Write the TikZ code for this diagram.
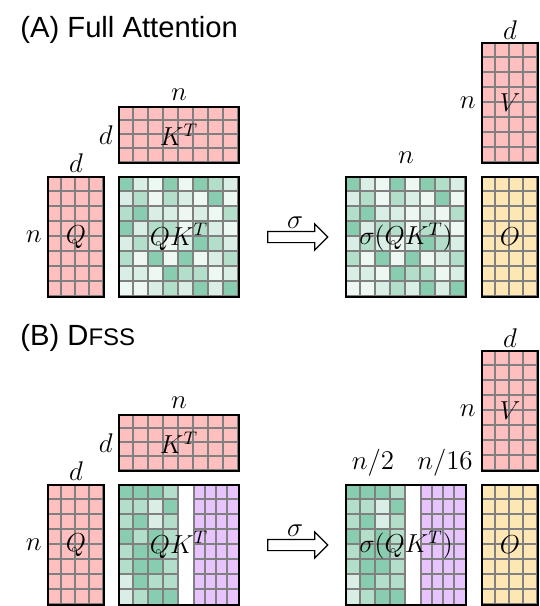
\documentclass[tikz,border=0pt]{standalone}
\usepackage{fix-cm}
\usepackage{fontspec}
\newfontfamily\titlefont{Liberation Sans}
\usetikzlibrary{positioning, shapes.arrows, calc}

\definecolor{kpink}{RGB}{255,191,191}
\definecolor{oyellow}{RGB}{255,230,181}
\definecolor{keptpurple}{RGB}{232,196,255}
\definecolor{gridgray}{RGB}{128,128,128}
\definecolor{g0}{RGB}{238,248,243}
\definecolor{g1}{RGB}{217,239,229}
\definecolor{g2}{RGB}{179,223,202}
\definecolor{g3}{RGB}{136,205,176}

% score levels (0 = weak ... 3 = strong), one list per row
\def\fullscores{{3,1,0,3,0,3,2,1},{1,2,0,2,1,0,3,0},{2,3,1,1,0,1,0,2},{3,1,2,2,0,2,1,0},{1,2,1,0,1,3,2,1},{2,0,3,0,3,0,1,2},{1,1,0,3,2,2,0,1},{0,0,1,2,1,3,1,3}}
\def\keptscores{{3,3,3,2},{2,2,1,3},{2,3,1,2},{3,2,3,2},{2,3,3,2},{2,3,3,2},{1,3,2,2},{1,2,3,3}}

% grid lines and frame: name, left, top, cols, rows, cell width, cell height
\newcommand{\matgrid}[7]{%
  \begin{scope}[shift={(#2,#3)}]
    \foreach \i in {1,...,#4} \draw[cell line] ({\i*#6},0) -- ++(0,{#5*#7});
    \foreach \j in {1,...,#5} \draw[cell line] (0,{\j*#7}) -- ++({#4*#6},0);
    \node[mat frame, minimum width={#4*#6*0.5pt}, minimum height={#5*#7*0.5pt}] (#1) at (0,0) {};
  \end{scope}}

% coloured score cells: left, top, score list, cell width
\newcommand{\scorecells}[4]{%
  \begin{scope}[shift={(#1,#2)}]
    \foreach \row [count=\r from 0] in #3
      \foreach \lv [count=\c from 0] in \row
        \fill[g\lv] ({\c*#4},{\r*15}) rectangle ++(#4,15);
  \end{scope}}

% sparse scores: kept green block, empty gap, purple block
\newcommand{\sparsegrid}[3]{%
  \scorecells{#2}{#3}{\keptscores}{15}
  \fill[keptpurple] ({#2+76},#3) rectangle ++(44,120);
  \begin{scope}[shift={(#2,#3)}]
    \foreach \i in {1,...,4} \draw[cell line] ({\i*15},0) -- ++(0,120);
    \foreach \i in {0,...,3} \draw[cell line] ({76+\i*11},0) -- ++(0,120);
    \foreach \j in {1,...,7} {
      \draw[cell line] (0,{\j*15}) -- ++(60,0);
      \draw[cell line] (76,{\j*15}) -- ++(44,0);
    }
    \node[mat frame, minimum width=60pt, minimum height=60pt] (#1) at (0,0) {};
  \end{scope}}

\begin{document}
\begin{tikzpicture}[x=0.5pt, y=-0.5pt]
  \tikzset{
    cell line/.style={gridgray, line width=0.75pt},
    mat frame/.style={draw=black, line width=1pt, inner sep=0pt, anchor=north west},
    mat label/.style={font=\fontsize{13}{15}\selectfont, inner sep=0pt},
    dim label/.style={font=\fontsize{13.5}{15}\selectfont, inner sep=1pt},
    panel title/.style={font=\titlefont\fontsize{14.6}{17}\selectfont, anchor=base west, inner sep=0pt},
    sigma arrow/.style={single arrow, draw=black, line width=0.6pt, fill=white,
      minimum height=30pt, inner sep=2.5pt, single arrow head extend=3.75pt}
  }
  \useasboundingbox (0,0) rectangle (540,606);

  % --- (A) Full Attention ---
  \node[panel title] (titleA) at (20,37) {(A) Full Attention};

  \fill[kpink] (118,106) rectangle ++(120,56);
  \matgrid{KA}{118}{106}{8}{4}{15}{14}
  \fill[kpink] (47,176) rectangle ++(56,120);
  \matgrid{QA}{47}{176}{4}{8}{14}{15}
  \scorecells{118}{176}{\fullscores}{15}
  \matgrid{SA}{118}{176}{8}{8}{15}{15}
  \scorecells{345}{176}{\fullscores}{15}
  \matgrid{PA}{345}{176}{8}{8}{15}{15}
  \fill[kpink] (481,42) rectangle ++(56,120);
  \matgrid{VA}{481}{42}{4}{8}{14}{15}
  \fill[oyellow] (481,176) rectangle ++(56,120);
  \matgrid{OA}{481}{176}{4}{8}{14}{15}

  \node[mat label] (KAtxt) at (KA.center) {$K^T$};
  \node[mat label] (QAtxt) at (QA.center) {$Q$};
  \node[mat label] (SAtxt) at (SA.center) {$QK^T$};
  \node[mat label] (PAtxt) at (PA.center) {$\sigma(QK^T)$};
  \node[mat label] (VAtxt) at (VA.center) {$V$};
  \node[mat label] (OAtxt) at (OA.center) {$O$};

  \node[dim label, above=1.5pt of KA] (nKA) {$n$};
  \node[dim label, left=1.5pt of KA] (dKA) {$d$};
  \node[dim label, above=0.5pt of QA] (dQA) {$d$};
  \node[dim label, left=1.5pt of QA] (nQA) {$n$};
  \node[dim label, above=5pt of PA] (nPA) {$n$};
  \node[dim label, above=0pt of VA] (dVA) {$d$};
  \node[dim label, left=1.5pt of VA] (nVA) {$n$};

  \node[sigma arrow] (arrA) at (295,237) {};
  \node[dim label, above=0pt of arrA] (sigA) {$\sigma$};

  % --- (B) DFSS ---
  \node[panel title] (titleB) at (20,345) {(B) D{\fontsize{12}{14}\selectfont FSS}};

  \fill[kpink] (118,414) rectangle ++(120,56);
  \matgrid{KB}{118}{414}{8}{4}{15}{14}
  \fill[kpink] (47,484) rectangle ++(56,120);
  \matgrid{QB}{47}{484}{4}{8}{14}{15}
  \sparsegrid{SB}{118}{484}
  \sparsegrid{PB}{345}{484}
  \fill[kpink] (481,350) rectangle ++(56,120);
  \matgrid{VB}{481}{350}{4}{8}{14}{15}
  \fill[oyellow] (481,484) rectangle ++(56,120);
  \matgrid{OB}{481}{484}{4}{8}{14}{15}

  \node[mat label] (KBtxt) at (KB.center) {$K^T$};
  \node[mat label] (QBtxt) at (QB.center) {$Q$};
  \node[mat label] (SBtxt) at (SB.center) {$QK^T$};
  \node[mat label] (PBtxt) at (PB.center) {$\sigma(QK^T)$};
  \node[mat label] (VBtxt) at (VB.center) {$V$};
  \node[mat label] (OBtxt) at (OB.center) {$O$};

  \node[dim label, above=1.5pt of KB] (nKB) {$n$};
  \node[dim label, left=1.5pt of KB] (dKB) {$d$};
  \node[dim label, above=0.5pt of QB] (dQB) {$d$};
  \node[dim label, left=1.5pt of QB] (nQB) {$n$};
  \node[dim label, anchor=south] (halfPB) at ($(PB.north west)+(28,-5)$) {$n/2$};
  \node[dim label, anchor=south] (sixteenPB) at ($(PB.north west)+(100,-5)$) {$n/16$};
  \node[dim label, above=0pt of VB] (dVB) {$d$};
  \node[dim label, left=1.5pt of VB] (nVB) {$n$};

  \node[sigma arrow] (arrB) at (295,545) {};
  \node[dim label, above=0pt of arrB] (sigB) {$\sigma$};
\end{tikzpicture}
\end{document}
